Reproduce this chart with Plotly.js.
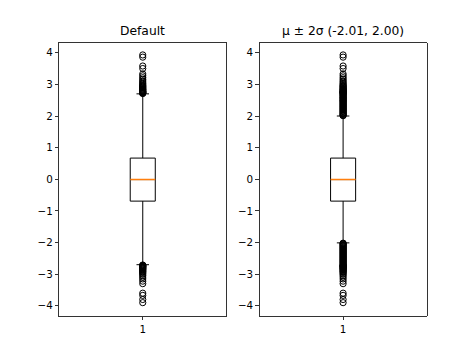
<!DOCTYPE html>
<html>
<head>
<meta charset="utf-8">
<script src="https://cdn.plot.ly/plotly-3.0.1.min.js"></script>
<style>html,body{margin:0;padding:0;background:#fff}#chart{width:474px;height:355px}</style>
</head>
<body>
<div id="chart"></div>
<script>
// ---- data ----
const titles = ["Default", "\u03bc \u00b1 2\u03c3 (-2.01, 2.00)"];
const category = [1];
const tickVals = [-4, -3, -2, -1, 0, 1, 2, 3, 4];

const q1 = -0.69, median = -0.01, q3 = 0.67;
const defaultFences = [-2.70, 2.70];
const sigmaFences = [-2.01, 2.00];

// outliers beyond the default (1.5 IQR) whiskers
const outHigh = [3.93, 3.86, 3.58, 3.50, 3.33, 3.27, 3.21, 3.16, 3.11, 3.07,
  3.03, 3.00, 2.97, 2.95, 2.93, 2.91, 2.89, 2.87, 2.85, 2.84, 2.82, 2.81, 2.79,
  2.78, 2.77, 2.76, 2.75, 2.74, 2.73, 2.72, 2.71];
const outLow = [-3.90, -3.80, -3.67, -3.60, -3.30, -3.22, -3.15, -3.09, -3.04,
  -3.00, -2.97, -2.94, -2.92, -2.90, -2.88, -2.86, -2.84, -2.83, -2.81, -2.80,
  -2.79, -2.77, -2.76, -2.75, -2.74, -2.73, -2.72, -2.71];
// extra points between the 2-sigma whiskers and the default whiskers
const midHigh = [2.69, 2.67, 2.66, 2.64, 2.62, 2.60, 2.58, 2.57, 2.55, 2.53, 2.51, 2.49,
  2.48, 2.46, 2.44, 2.42, 2.40, 2.38, 2.36, 2.34, 2.32, 2.30, 2.28, 2.26, 2.24, 2.22,
  2.20, 2.18, 2.16, 2.14, 2.12, 2.10, 2.08, 2.06, 2.04, 2.02, 2.01];
const midLow = [-2.69, -2.67, -2.65, -2.63, -2.61, -2.59, -2.57, -2.55, -2.53, -2.51,
  -2.49, -2.47, -2.45, -2.43, -2.41, -2.39, -2.37, -2.35, -2.33, -2.31, -2.29, -2.27,
  -2.25, -2.23, -2.21, -2.19, -2.17, -2.15, -2.13, -2.11, -2.09, -2.07, -2.05, -2.03, -2.02];

// ---- chart ----
const BOXW = 0.15;
const panels = [
  {fences: defaultFences, outliers: outHigh.concat(outLow)},
  {fences: sigmaFences, outliers: outHigh.concat(midHigh, outLow, midLow)}
];
const traces = [];
panels.forEach((p, i) => {
  const xa = i === 0 ? 'x' : 'x2', ya = i === 0 ? 'y' : 'y2';
  traces.push({
    type: 'box', x: category, q1: [q1], median: [median], q3: [q3],
    lowerfence: [p.fences[0]], upperfence: [p.fences[1]],
    width: BOXW, whiskerwidth: 0.5, boxpoints: false,
    fillcolor: 'rgba(0,0,0,0)', line: {color: '#000', width: 1},
    xaxis: xa, yaxis: ya, hoverinfo: 'skip'
  });
  traces.push({
    type: 'scatter', mode: 'lines',
    x: [category[0] - BOXW / 2, category[0] + BOXW / 2], y: [median, median],
    line: {color: '#ff7f0e', width: 1.5}, xaxis: xa, yaxis: ya, hoverinfo: 'skip'
  });
  traces.push({
    type: 'scatter', mode: 'markers',
    x: p.outliers.map(() => category[0]), y: p.outliers,
    marker: {symbol: 'circle-open', size: 6.2, color: '#000', line: {color: '#000', width: 1}},
    xaxis: xa, yaxis: ya, hoverinfo: 'skip'
  });
});

const axFont = {family: 'DejaVu Sans', size: 10.3, color: '#000'};
function xAxis(domain, anchor) {
  return {domain: domain, anchor: anchor, range: [0.5, 1.5], tickvals: category, ticktext: category.map(String),
    ticks: 'outside', ticklen: 3.6, tickwidth: 0.8, tickcolor: '#000',
    showline: true, mirror: true, linecolor: '#000', linewidth: 0.8,
    showgrid: false, zeroline: false, tickfont: axFont, fixedrange: true};
}
function yAxis(anchor) {
  return {domain: [0.11, 0.88], anchor: anchor, range: [-4.32, 4.32], tickvals: tickVals,
    ticks: 'outside', ticklen: 3.6, tickwidth: 0.8, tickcolor: '#000',
    showline: true, mirror: true, linecolor: '#000', linewidth: 0.8,
    showgrid: false, zeroline: false, tickfont: axFont, fixedrange: true};
}
const d1 = [0.125, 0.125 + 167 / 474], d2 = [0.9 - 167 / 474, 0.9];
const layout = {
  width: 474, height: 355, margin: {l: 0, r: 0, t: 0, b: 0},
  paper_bgcolor: '#fff', plot_bgcolor: '#fff', showlegend: false,
  xaxis: xAxis(d1, 'y'), yaxis: yAxis('x'),
  xaxis2: xAxis(d2, 'y2'), yaxis2: yAxis('x2'),
  annotations: [d1, d2].map((d, i) => ({
    text: titles[i], xref: 'paper', yref: 'paper', x: (d[0] + d[1]) / 2, y: 0.88,
    xanchor: 'center', yanchor: 'bottom', yshift: 3, showarrow: false,
    font: {family: 'DejaVu Sans', size: 12.3, color: '#000'}
  }))
};
Plotly.newPlot('chart', traces, layout, {staticPlot: true, displayModeBar: false});
</script>
</body>
</html>
